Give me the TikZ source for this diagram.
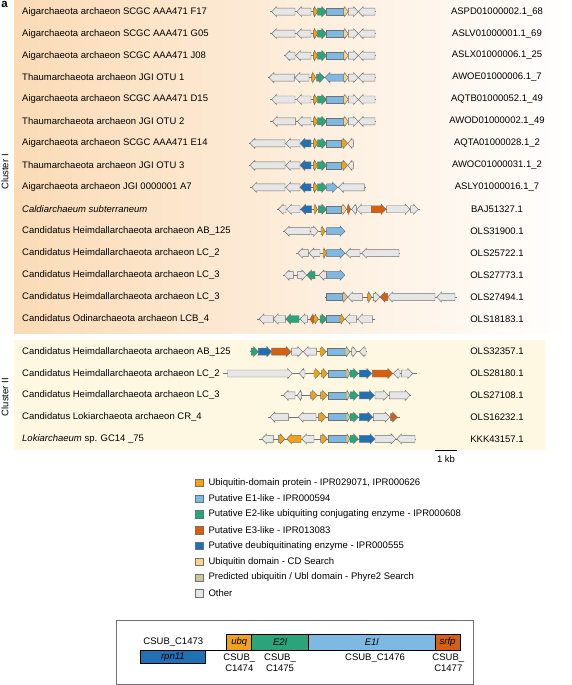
\documentclass[tikz,border=0pt]{standalone}
\usepackage{fontspec}
\setmainfont{Liberation Sans}
\definecolor{cOr}{HTML}{EFA21B}
\definecolor{cLB}{HTML}{7DB9E2}
\definecolor{cGr}{HTML}{2BA37B}
\definecolor{cRd}{HTML}{D5600F}
\definecolor{cDB}{HTML}{2170B3}
\definecolor{cPa}{HTML}{F8D38F}
\definecolor{cTn}{HTML}{CAC6A0}
\definecolor{cGy}{HTML}{E6E6E6}
\definecolor{cPeach}{HTML}{FBDBB6}
\definecolor{cCream}{HTML}{FEF8E3}
\definecolor{cEdge}{HTML}{707070}
\tikzset{
  gene/.style={draw=cEdge, line width=0.45pt, line join=miter},
  backbone/.style={draw=cEdge, line width=0.45pt},
  lab/.style={font=\fontsize{9.5}{11}\selectfont, inner sep=0pt, anchor=west},
  acc/.style={font=\fontsize{9.5}{11}\selectfont, inner sep=0pt, anchor=center},
  legsq/.style={draw=cEdge, line width=0.45pt, minimum width=7.5pt, minimum height=7.5pt, inner sep=0pt},
  pbox/.style={draw=black, line width=0.7pt, inner sep=0pt, outer sep=0pt, font=\fontsize{9.5}{11}\selectfont\itshape},
  ptxt/.style={font=\fontsize{9.5}{11}\selectfont, inner sep=0pt, align=center}
}
\newcommand{\gR}[4]{%
  \pgfmathsetmacro\hl{min(4.8,0.75*(#2-#1))}%
  \draw[gene,fill=#4] (#1,{#3-3.5}) -- ({#2-\hl},{#3-3.5}) -- ({#2-\hl},{#3-5}) -- (#2,#3) -- ({#2-\hl},{#3+5}) -- ({#2-\hl},{#3+3.5}) -- (#1,{#3+3.5}) -- cycle;}
\newcommand{\gL}[4]{%
  \pgfmathsetmacro\hl{min(4.8,0.75*(#2-#1))}%
  \draw[gene,fill=#4] (#2,{#3-3.5}) -- ({#1+\hl},{#3-3.5}) -- ({#1+\hl},{#3-5}) -- (#1,#3) -- ({#1+\hl},{#3+5}) -- ({#1+\hl},{#3+3.5}) -- (#2,{#3+3.5}) -- cycle;}
\newcommand{\gB}[4]{\draw[gene,fill=#4] (#1,{#3-3.5}) rectangle (#2,{#3+3.5});}
\newcommand{\bb}[3]{\draw[backbone] (#1,#3) -- (#2,#3);}
\newcommand{\rowlab}[4]{%
  \node[lab] (n#1) at (22,#2) {#3};
  \node[acc] (a#1) at (497,#2) {#4};}
\newcommand{\stdtail}[1]{%
  \gR{313.3}{317.7}{#1}{cOr}
  \gR{317.7}{326.7}{#1}{cGr}
  \gB{326.7}{343.3}{#1}{cLB}
  \gR{343.3}{348.3}{#1}{cPa}
  \gR{348.3}{358.3}{#1}{cGy}
  \gL{358.3}{375}{#1}{cGy}}
\newcommand{\ebrow}[1]{%
  \gL{300}{311}{#1}{cDB}
  \gR{313.3}{317.7}{#1}{cOr}
  \gR{317.7}{326.7}{#1}{cGr}}
\newcommand{\cIIcore}[1]{%
  \gB{328.3}{346}{#1}{cLB}
  \gR{346}{350}{#1}{cTn}
  \gR{350}{358.3}{#1}{cGr}}
\begin{document}
\begin{tikzpicture}[x=1pt,y=-1pt]
\useasboundingbox (0,0) rectangle (572,685);
% backgrounds
\shade[left color=cPeach, right color=white] (14,0) rectangle (572,333);
\fill[cCream] (14,340) rectangle (545,450);
\node[font=\fontsize{11.5}{13}\selectfont\bfseries, inner sep=0pt] (panela) at (4.5,4.5) {a};
\node[font=\fontsize{9.5}{11}\selectfont, rotate=90, inner sep=0pt] (c1) at (5,172) {Cluster I};
\node[font=\fontsize{9.5}{11}\selectfont, rotate=90, inner sep=0pt] (c2) at (5,397) {Cluster II};
% labels
\rowlab{0}{11.7}{Aigarchaeota archaeon SCGC AAA471 F17}{ASPD01000002.1\_68}
\rowlab{1}{33.65}{Aigarchaeota archaeon SCGC AAA471 G05}{ASLV01000001.1\_69}
\rowlab{2}{55.6}{Aigarchaeota archaeon SCGC AAA471 J08}{ASLX01000006.1\_25}
\rowlab{3}{77.55}{Thaumarchaeota archaeon JGI OTU 1}{AWOE01000006.1\_7}
\rowlab{4}{99.5}{Aigarchaeota archaeon SCGC AAA471 D15}{AQTB01000052.1\_49}
\rowlab{5}{121.45}{Thaumarchaeota archaeon JGI OTU 2}{AWOD01000002.1\_49}
\rowlab{6}{143.4}{Aigarchaeota archaeon SCGC AAA471 E14}{AQTA01000028.1\_2}
\rowlab{7}{165.35}{Thaumarchaeota archaeon JGI OTU 3}{AWOC01000031.1\_2}
\rowlab{8}{187.3}{Aigarchaeota archaeon JGI 0000001 A7}{ASLY01000016.1\_7}
\rowlab{9}{209.25}{\itshape Caldiarchaeum subterraneum}{BAJ51327.1}
\rowlab{10}{231.2}{Candidatus Heimdallarchaeota archaeon AB\_125}{OLS31900.1}
\rowlab{11}{253.15}{Candidatus Heimdallarchaeota archaeon LC\_2}{OLS25722.1}
\rowlab{12}{275.1}{Candidatus Heimdallarchaeota archaeon LC\_3}{OLS27773.1}
\rowlab{13}{297.05}{Candidatus Heimdallarchaeota archaeon LC\_3}{OLS27494.1}
\rowlab{14}{319}{Candidatus Odinarchaeota archaeon LCB\_4}{OLS18183.1}
\rowlab{15}{351.7}{Candidatus Heimdallarchaeota archaeon AB\_125}{OLS32357.1}
\rowlab{16}{373.5}{Candidatus Heimdallarchaeota archaeon LC\_2}{OLS28180.1}
\rowlab{17}{395.3}{Candidatus Heimdallarchaeota archaeon LC\_3}{OLS27108.1}
\rowlab{18}{417.1}{Candidatus Lokiarchaeota archaeon CR\_4}{OLS16232.1}
\rowlab{19}{438.9}{\textit{Lokiarchaeum} sp. GC14 \_75}{KKK43157.1}
% ---- Cluster I genes ----
\bb{270}{376}{11.7}
\gL{271.7}{295}{11.7}{cGy}\gL{296.7}{311}{11.7}{cGy}\stdtail{11.7}
\bb{270}{376}{33.65}
\gL{271.7}{295}{33.65}{cGy}\gL{296.7}{311}{33.65}{cGy}\stdtail{33.65}
\bb{284}{376}{55.6}
\gL{285}{295}{55.6}{cGy}\gL{295.7}{311}{55.6}{cGy}\stdtail{55.6}
\bb{268}{376}{77.55}
\gL{269}{294.3}{77.55}{cGy}\gL{295}{309}{77.55}{cGy}
\gR{311.7}{315.7}{77.55}{cOr}\gR{316.7}{324.3}{77.55}{cGr}
\gL{325}{343.3}{77.55}{cLB}\gR{343.3}{348.3}{77.55}{cPa}
\gR{348.3}{358.3}{77.55}{cGy}\gL{358.3}{375}{77.55}{cGy}
\bb{270}{376}{99.5}
\gL{271.7}{295}{99.5}{cGy}\gL{296.7}{311}{99.5}{cGy}\stdtail{99.5}
\bb{270}{376}{121.45}
\gL{272.3}{295.7}{121.45}{cGy}\gL{297.3}{311}{121.45}{cGy}\stdtail{121.45}
\bb{249}{354}{143.4}
\gL{250}{285}{143.4}{cGy}\gL{285.7}{300}{143.4}{cGy}\ebrow{143.4}
\gB{326.7}{341.7}{143.4}{cLB}\gR{341.7}{347.7}{143.4}{cOr}\gL{347.7}{353.3}{143.4}{cGy}
\bb{249}{354}{165.35}
\gL{250}{285}{165.35}{cGy}\gL{285.7}{300}{165.35}{cGy}\ebrow{165.35}
\gB{326.7}{341.7}{165.35}{cLB}\gR{341.7}{347.7}{165.35}{cOr}\gL{347.7}{353.3}{165.35}{cGy}
\bb{250}{366}{187.3}
\gL{251.7}{285}{187.3}{cGy}\gL{285.7}{300}{187.3}{cGy}\ebrow{187.3}
\gR{326.7}{337.5}{187.3}{cLB}\gL{338.5}{364.3}{187.3}{cGy}
\bb{277}{420}{209.25}
\gL{278.3}{286}{209.25}{cGy}\gL{286.7}{300}{209.25}{cGy}
\gL{300.7}{311.7}{209.25}{cDB}\gR{314}{317.3}{209.25}{cOr}\gR{318.3}{326.7}{209.25}{cGr}
\gB{326.7}{341.7}{209.25}{cLB}\gR{341.7}{346.7}{209.25}{cPa}\gR{347.3}{350.7}{209.25}{cRd}
\gL{351.7}{356.7}{209.25}{cGy}\gL{356.7}{371.7}{209.25}{cGy}\gR{371.7}{386}{209.25}{cRd}
\gR{386.7}{410}{209.25}{cGy}\gR{410.7}{418.3}{209.25}{cGy}
\bb{283}{345}{231.2}
\gL{284.3}{310}{231.2}{cGy}\gR{311}{318.3}{231.2}{cGy}\gR{321}{325}{231.2}{cOr}\gR{326.7}{345}{231.2}{cLB}
\bb{296}{400}{253.15}
\gL{297.7}{308.3}{253.15}{cGy}\gL{309}{320}{253.15}{cGy}\gR{323}{326.7}{253.15}{cOr}
\gR{326.7}{345}{253.15}{cLB}\gL{345.7}{360}{253.15}{cGy}\gL{361.7}{399}{253.15}{cGy}
\bb{283}{345}{275.1}
\gL{284.3}{293.3}{275.1}{cGy}\gR{297.7}{306.7}{275.1}{cGy}\gL{306.7}{315}{275.1}{cGr}
\gL{319}{326.7}{275.1}{cGy}\gR{326.7}{345}{275.1}{cLB}
\bb{325}{457}{297.05}
\gB{326.7}{342.3}{297.05}{cLB}\gR{342.3}{347.7}{297.05}{cTn}\gL{347.7}{362.3}{297.05}{cGy}
\gR{367.7}{371.7}{297.05}{cOr}\gR{373.3}{380}{297.05}{cGy}\gL{380}{387.7}{297.05}{cRd}
\gL{387.7}{435}{297.05}{cGy}\gL{436.7}{455}{297.05}{cGy}
\bb{257}{375}{319}
\gL{259}{273.3}{319}{cGy}\gL{273.3}{285.7}{319}{cGy}\gL{285.7}{299}{319}{cGr}
\gL{300}{307.7}{319}{cGy}\gL{310}{314}{319}{cRd}\gR{314}{318.3}{319}{cOr}
\gR{320}{326.7}{319}{cGr}\gB{326.7}{340}{319}{cLB}\gR{340}{344.3}{319}{cOr}
\gL{345}{356.7}{319}{cGy}\gL{357.7}{372.3}{319}{cGy}
% ---- Cluster II genes ----
\bb{250}{367.3}{351.7}
\gR{251}{258.3}{351.7}{cGr}\gR{258.3}{271.7}{351.7}{cDB}\gR{271.7}{291}{351.7}{cRd}
\gR{291.7}{302.7}{351.7}{cGy}\gL{303.3}{316.7}{351.7}{cGy}\gR{320}{326}{351.7}{cOr}
\gB{327.3}{345}{351.7}{cLB}\gR{345}{350}{351.7}{cTn}\gR{351.7}{356.7}{351.7}{cGy}\gL{359.3}{366}{351.7}{cGy}
\bb{222.5}{416.7}{373.5}
\gR{227.5}{292.3}{373.5}{cGy}\gL{299.3}{305}{373.5}{cGy}\gR{314}{320}{373.5}{cOr}\gR{321.7}{327.3}{373.5}{cOr}
\cIIcore{373.5}\gR{359.3}{371.7}{373.5}{cDB}\gR{372.3}{392.7}{373.5}{cRd}
\gL{393.3}{400}{373.5}{cGy}\gR{401.7}{412.7}{373.5}{cGy}
\bb{281}{411}{395.3}
\gL{283.3}{295}{395.3}{cGy}\gL{297.3}{301.7}{395.3}{cGy}\gR{310.7}{317.3}{395.3}{cOr}\gR{320.7}{327.3}{395.3}{cOr}
\cIIcore{395.3}\gR{359.3}{374.3}{395.3}{cDB}\gR{375}{388.3}{395.3}{cGy}\gR{389.3}{410}{395.3}{cGy}
\bb{268}{400}{417.1}
\gL{270}{288.3}{417.1}{cGy}\gL{298.3}{316}{417.1}{cGy}\gR{318.7}{326}{417.1}{cOr}
\cIIcore{417.1}\gR{359.3}{372.7}{417.1}{cDB}\gR{373.3}{390}{417.1}{cGy}\gR{390.7}{397.3}{417.1}{cRd}
\bb{259}{416}{438.9}
\gL{261.7}{273.3}{438.9}{cGy}\gR{278.3}{285}{438.9}{cOr}\gL{286.7}{301}{438.9}{cOr}
\gL{301.7}{314}{438.9}{cGy}\gR{320.7}{327.3}{438.9}{cOr}
\cIIcore{438.9}\gR{359.3}{375}{438.9}{cDB}\gR{375}{396}{438.9}{cGy}\gL{396.7}{415}{438.9}{cGy}
% scale bar
\coordinate (sb1) at (435,450.7);
\coordinate (sb2) at (456.7,450.7);
\draw[line width=1.1pt] (sb1) -- (sb2);
\node[acc] (kb) at (446,459.5) {1 kb};
% legend
\foreach \yy/\cc/\tt [count=\k] in {
  482.7/cOr/{Ubiquitin-domain protein - IPR029071, IPR000626},
  498.5/cLB/{Putative E1-like - IPR000594},
  514.3/cGr/{Putative E2-like ubiquiting conjugating enzyme - IPR000608},
  530.1/cRd/{Putative E3-like - IPR013083},
  545.9/cDB/{Putative deubiquitinating enzyme - IPR000555},
  561.7/cPa/{Ubiquitin domain - CD Search},
  577.5/cTn/{Predicted ubiquitin / Ubl domain - Phyre2 Search},
  593.3/cGy/{Other}}{
  \node[legsq, fill=\cc] (sq\k) at (199,\yy) {};
  \node[lab] (lt\k) at (208.3,\yy) {\tt};
}
% bottom panel
\draw[draw=cEdge, line width=0.6pt] (116.7,620.7) rectangle (473.3,684);
\node[pbox, fill=cOr, minimum width=25pt, minimum height=16.7pt, anchor=south west] (ubq) at (226.7,650.7) {ubq};
\node[pbox, fill=cGr, minimum width=56.6pt, minimum height=16.7pt, anchor=south west] (e2l) at (251.7,650.7) {E2l};
\node[pbox, fill=cLB, minimum width=126.7pt, minimum height=16.7pt, anchor=south west] (e1l) at (308.3,650.7) {E1l};
\node[pbox, fill=cRd, minimum width=25pt, minimum height=16.7pt, anchor=south west] (srfp) at (435,650.7) {srfp};
\node[pbox, fill=cDB, minimum width=64.3pt, minimum height=12.6pt, anchor=north west] (rpn) at (140.7,650.7) {rpn11};
\draw[black, line width=0.7pt] (rpn.north east) -- (ubq.south west);
\node[ptxt] (t1473) at (173.3,642.3) {CSUB\_C1473};
\node[ptxt, anchor=north] (t1474) at (239.3,653.5) {CSUB\_\\C1474};
\node[ptxt, anchor=north] (t1475) at (280,653.5) {CSUB\_\\C1475};
\node[ptxt, anchor=north] (t1476) at (375,653.5) {CSUB\_C1476};
\node[ptxt, anchor=north] (t1477) at (448.3,653.5) {CSUB\_\\C1477};
\end{tikzpicture}
\end{document}
